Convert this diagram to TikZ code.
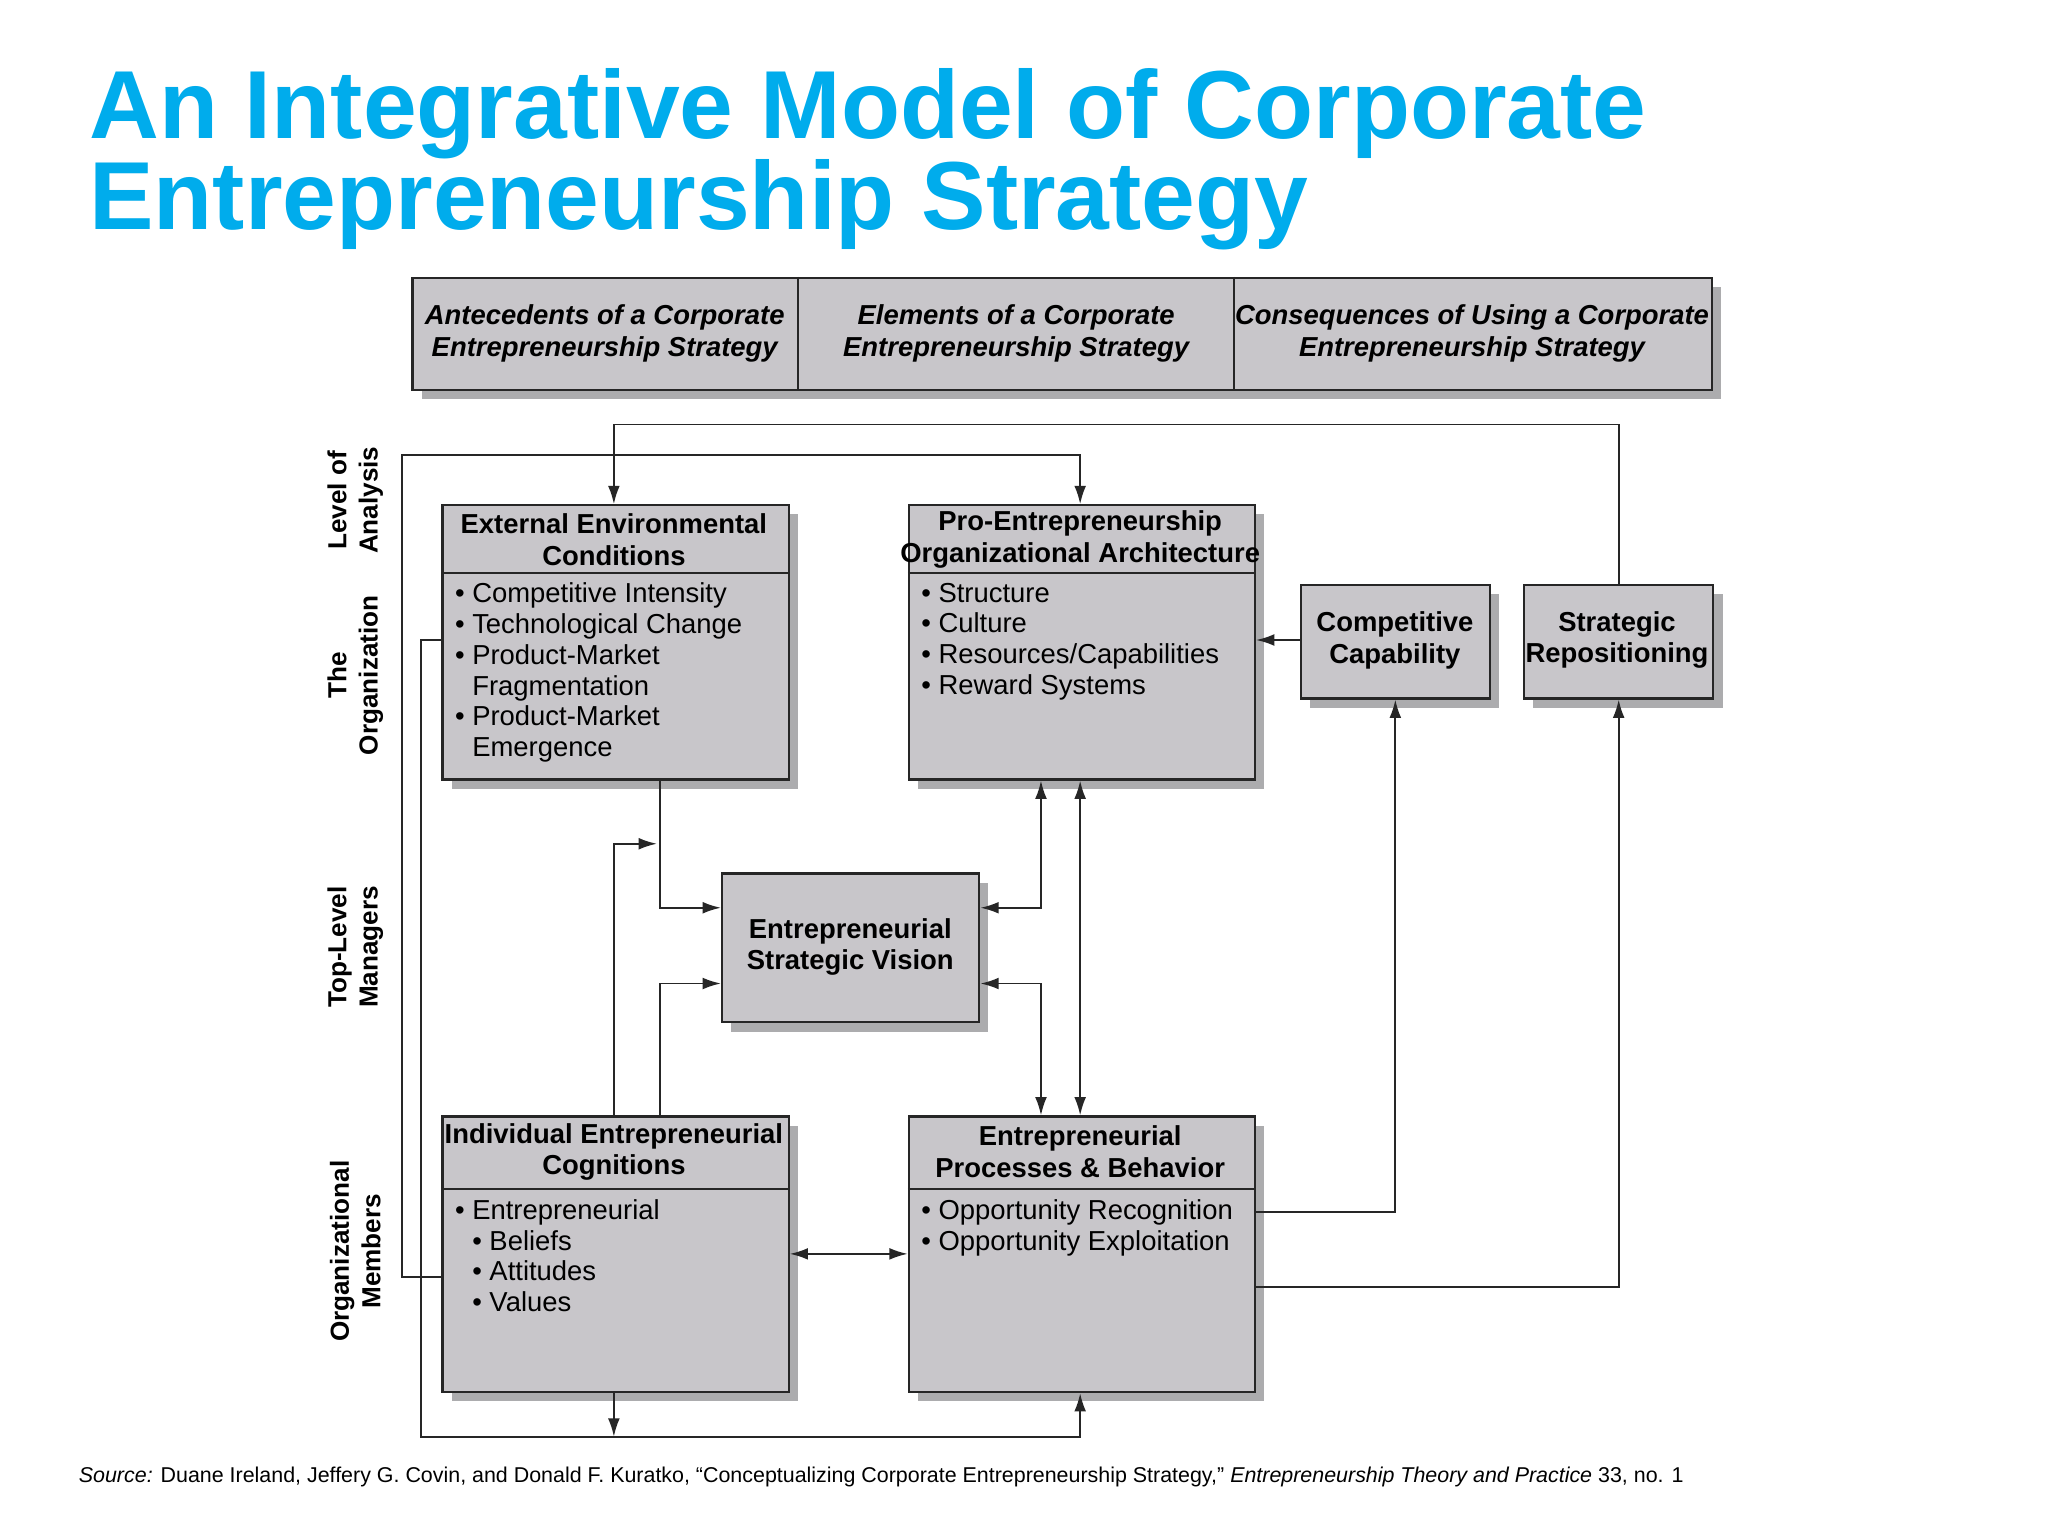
\documentclass[tikz,border=0pt]{standalone}
\usepackage{fontspec}
\setmainfont{Liberation Sans}
\usetikzlibrary{arrows.meta,shadows}
\definecolor{boxgray}{RGB}{200,198,202}
\definecolor{shgray}{RGB}{172,172,174}
\definecolor{titlecyan}{RGB}{0,172,236}
\begin{document}
\begin{tikzpicture}[x=0.5pt,y=-0.5pt,
  box/.style={draw=black!85,line width=0.8pt,fill=boxgray,anchor=north west,inner sep=0pt,
    drop shadow={shadow xshift=3.5pt,shadow yshift=-3.5pt,fill=shgray,opacity=1}},
  ttl/.style={font=\fontsize{10.5}{12.2}\selectfont\bfseries,align=center},
  body/.style={font=\fontsize{10.5}{11.75}\selectfont,align=left,anchor=north west,inner sep=0pt},
  lvl/.style={font=\fontsize{10}{12}\selectfont\bfseries,align=center,rotate=90},
  hdr/.style={font=\fontsize{10.5}{12.2}\selectfont\bfseries\itshape,align=center},
  con/.style={line width=0.75pt,draw=black!85},
  arr/.style={con,-{Latex[length=7pt,width=4.5pt]}},
  darr/.style={con,{Latex[length=7pt,width=4.5pt]}-{Latex[length=7pt,width=4.5pt]}}]
\useasboundingbox[fill=white] (0,0) rectangle (1568,1176);
% title
\node[anchor=west,inner sep=0pt,text=titlecyan,font=\fontsize{37}{36}\selectfont\bfseries] (t1) at (68,87) {An Integrative Model of Corporate};
\node[anchor=west,inner sep=0pt,text=titlecyan,font=\fontsize{37}{36}\selectfont\bfseries] (t2) at (68,157) {Entrepreneurship Strategy};
% header
\node[box,minimum width=497.5pt,minimum height=43pt] (H) at (315,212) {};
\draw[con] (611,212) -- (611,298) (945,212) -- (945,298);
\node[hdr] (h1) at (463,255) {Antecedents of a Corporate\\Entrepreneurship Strategy};
\node[hdr] (h2) at (778,255) {Elements of a Corporate\\Entrepreneurship Strategy};
\node[hdr] (h3) at (1127,255) {Consequences of Using a Corporate\\Entrepreneurship Strategy};
% level labels
\node[lvl] (l1) at (272,383) {Level of\\Analysis};
\node[lvl] (l2) at (272,517) {The\\Organization};
\node[lvl] (l3) at (272,725) {Top-Level\\Managers};
\node[lvl] (l4) at (272,958) {Organizational\\Members};
% boxes
\node[box,minimum width=132.5pt,minimum height=105pt] (A) at (338,386) {};
\node[box,minimum width=132.5pt,minimum height=105pt] (B) at (695,386) {};
\node[box,minimum width=72.5pt,minimum height=43.5pt] (C) at (995,447) {};
\node[box,minimum width=72.5pt,minimum height=43.5pt] (S) at (1166,447) {};
\node[box,minimum width=98.5pt,minimum height=57pt] (V) at (552,668) {};
\node[box,minimum width=132.5pt,minimum height=105.5pt] (I) at (338,854) {};
\node[box,minimum width=132.5pt,minimum height=105.5pt] (P) at (695,854) {};
\draw[con] (338,439) -- (603,439) (695,439) -- (960,439) (338,910) -- (603,910) (695,910) -- (960,910);
% texts
\node[ttl] at (470,413) {External Environmental\\Conditions};
\node[ttl] at (827,413) {Pro-Entrepreneurship\\Organizational Architecture};
\node[ttl] at (1068,490) {Competitive\\Capability};
\node[ttl] at (1238,490) {Strategic\\Repositioning};
\node[ttl] at (651,725) {Entrepreneurial\\Strategic Vision};
\node[ttl] at (470,882) {Individual Entrepreneurial\\Cognitions};
\node[ttl] at (827,882) {Entrepreneurial\\Processes \& Behavior};
\node[body] at (348,446) {• Competitive Intensity\\• Technological Change\\• Product-Market\\\phantom{• }Fragmentation\\• Product-Market\\\phantom{• }Emergence};
\node[body] at (705,446) {• Structure\\• Culture\\• Resources/Capabilities\\• Reward Systems};
\node[body] at (348,918) {• Entrepreneurial\\\phantom{• }• Beliefs\\\phantom{• }• Attitudes\\\phantom{• }• Values};
\node[body] at (705,918) {• Opportunity Recognition\\• Opportunity Exploitation};
% connectors
\draw[arr] (S.north) |- (470,325) -- (A.north -| 470,0);
\draw[arr] (I.west |- 0,978) -- (308,978) |- (827,348) -- (B.north -| 827,0);
\coordinate (bl) at (470,1100);
\draw[arr] (A.west |- 0,490) -- (322,490) |- (827,1100) -- (P.south -| 827,0);
\draw[arr] (I.south -| 470,0) -- (bl);
\draw[arr] (A.south -| 505,0) |- (V.west |- 0,695);
\draw[arr] (I.north -| 470,0) |- (503,646);
\draw[arr] (I.north -| 505,0) |- (V.west |- 0,753);
\draw[darr] (B.south -| 797,0) |- (V.east |- 0,695);
\draw[darr] (V.east |- 0,753) -| (P.north -| 797,0);
\draw[darr] (B.south -| 827,0) -- (P.north -| 827,0);
\draw[arr] (C.west |- 0,490) -- (B.east |- 0,490);
\draw[arr] (P.east |- 0,928) -| (C.south);
\draw[arr] (P.east |- 0,985) -| (S.south);
\draw[darr] (I.east |- 0,960) -- (P.west |- 0,960);
% source
\node[anchor=west,inner sep=0pt,font=\fontsize{8.2}{10}\selectfont] (src) at (60,1131) {\textit{Source:} Duane Ireland, Jeffery G. Covin, and Donald F. Kuratko, “Conceptualizing Corporate Entrepreneurship Strategy,” \textit{Entrepreneurship Theory and Practice} 33, no. 1};
\end{tikzpicture}
\end{document}
